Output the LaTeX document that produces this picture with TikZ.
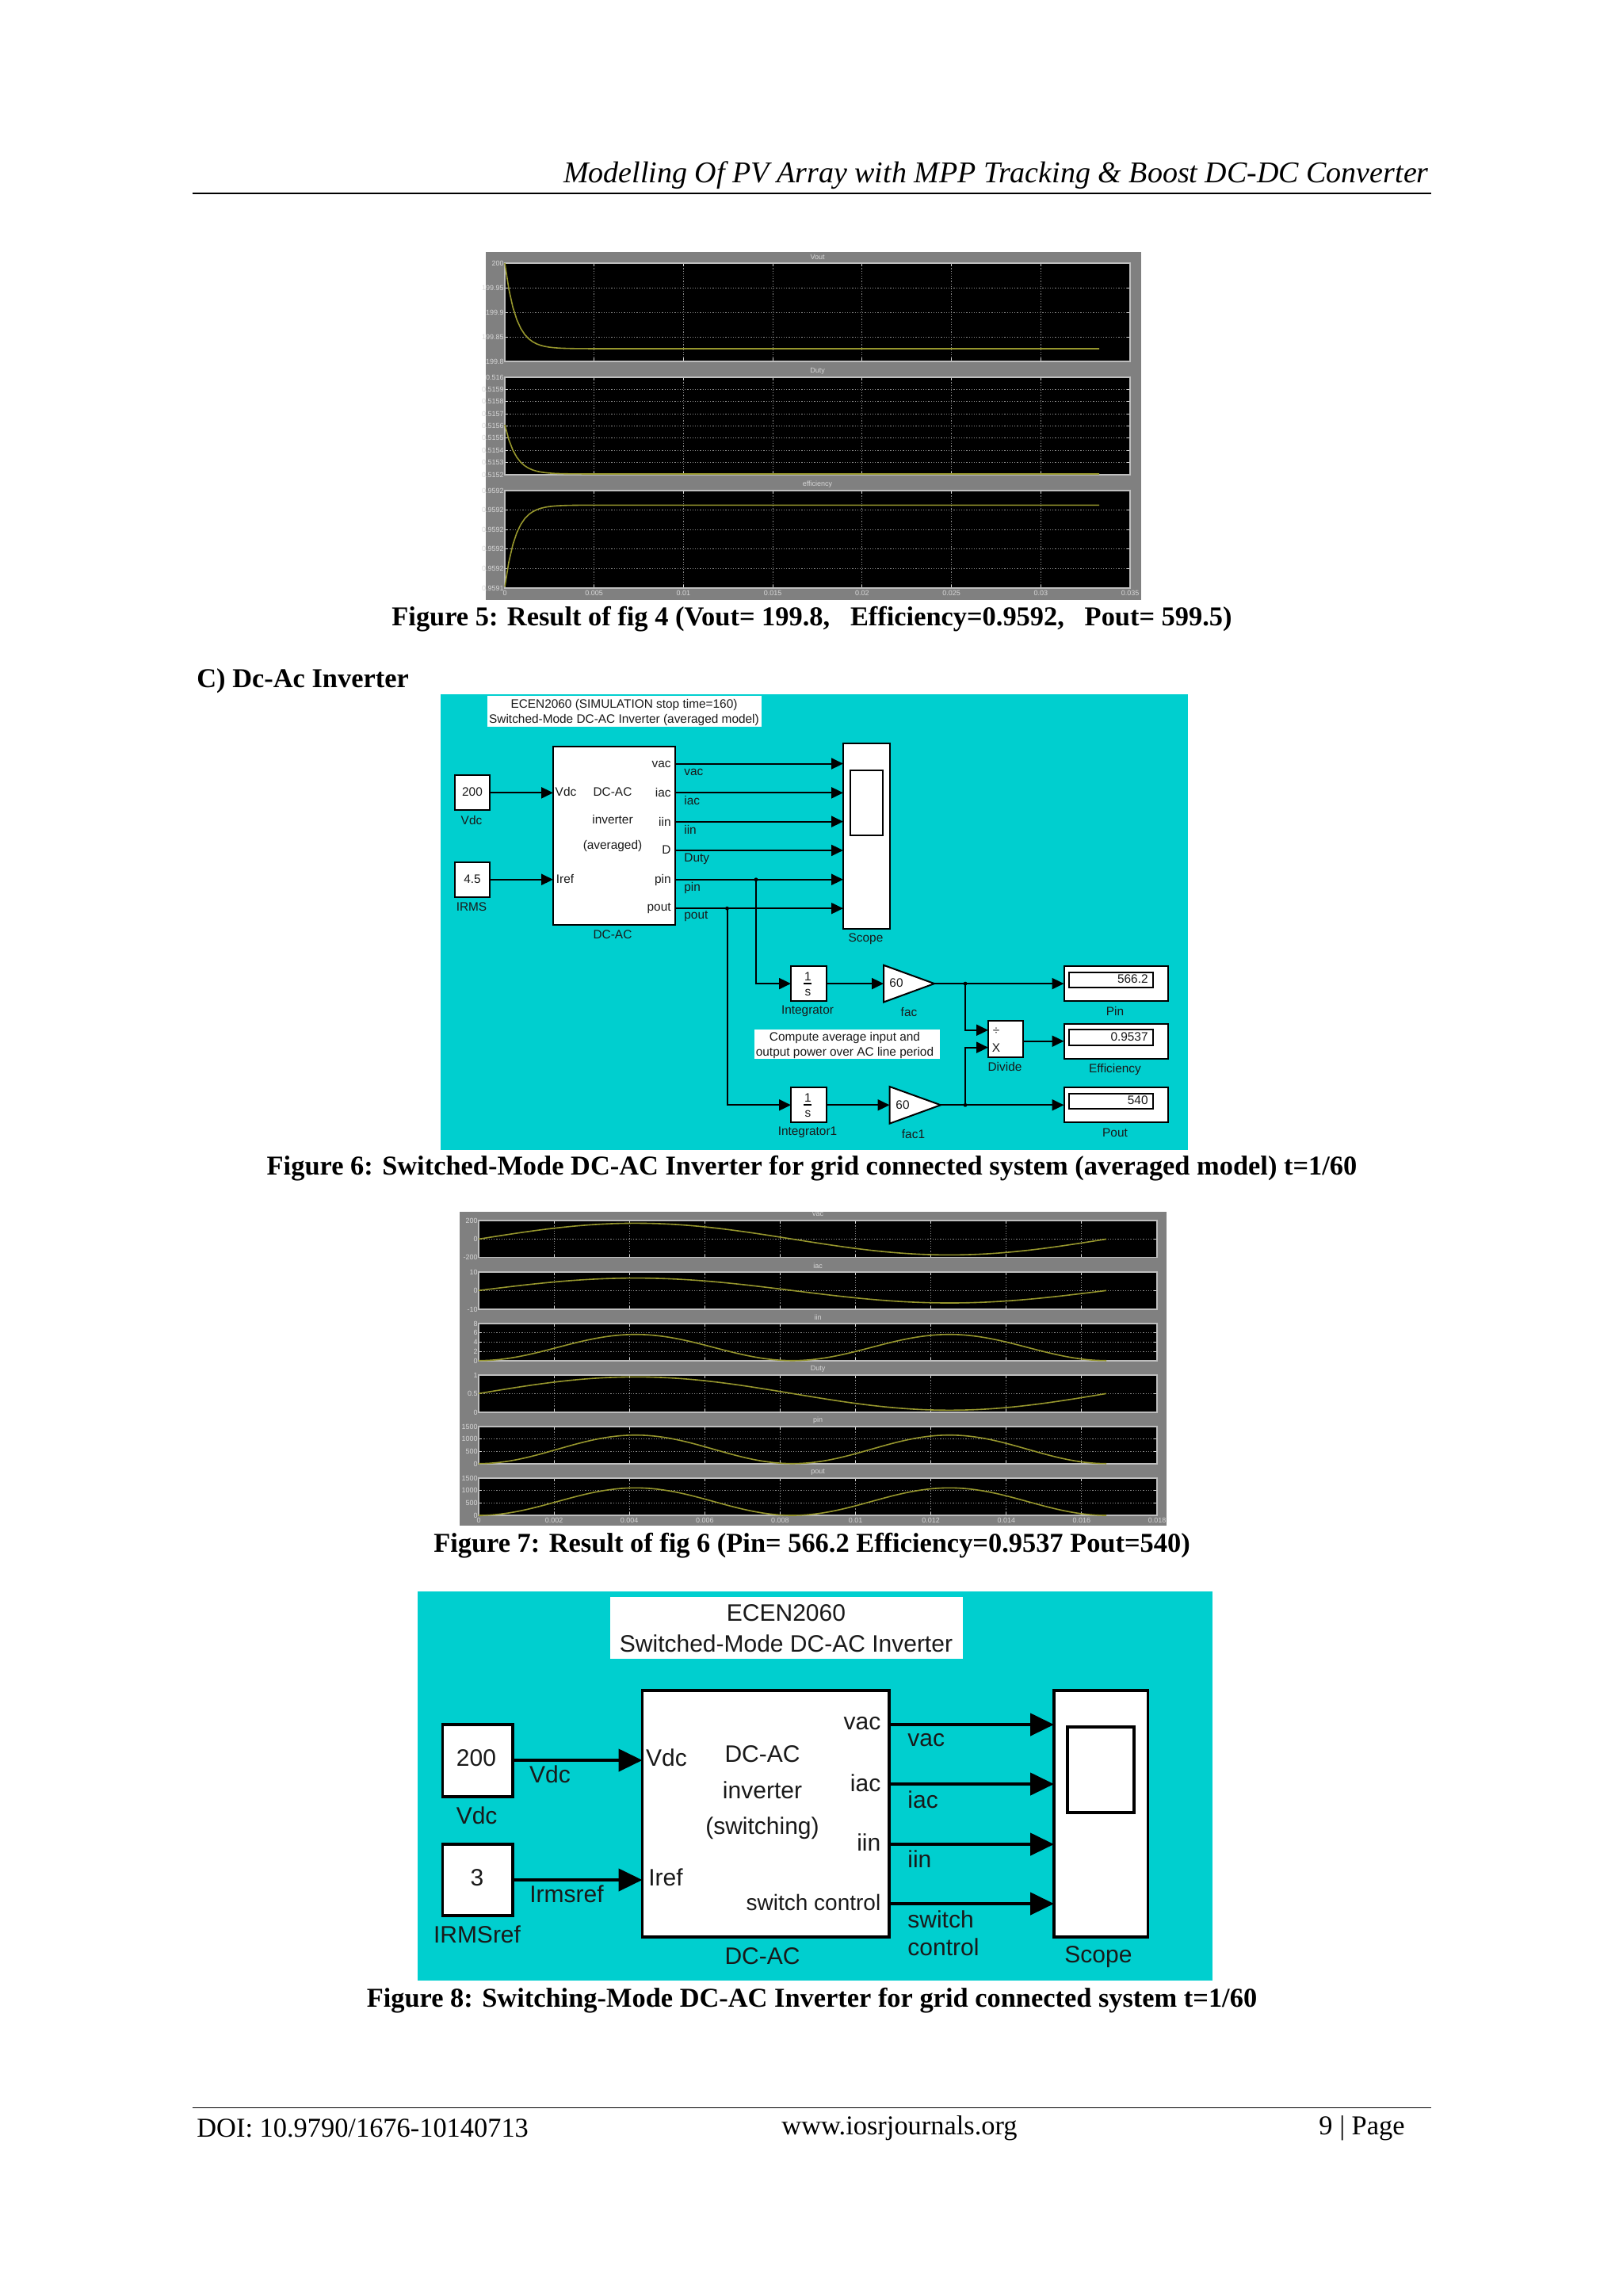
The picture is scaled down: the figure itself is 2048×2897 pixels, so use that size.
\documentclass[tikz,border=0pt]{standalone}
\usepackage{fontspec}
\usetikzlibrary{arrows.meta,calc}
\setmainfont{Liberation Serif}
\newfontfamily\smf{Liberation Sans}
\definecolor{simbg}{RGB}{0,207,207}
\definecolor{scgray}{RGB}{128,128,128}
\definecolor{sccurve}{RGB}{150,150,45}
\definecolor{scgrid}{RGB}{140,140,140}
\definecolor{scframe}{RGB}{190,190,190}
\definecolor{sctext}{RGB}{215,215,215}
\definecolor{ink}{RGB}{25,25,25}
\tikzset{
 capt/.style={font=\bfseries\fontsize{17.2}{20}\selectfont,inner sep=0pt,text=black},
 body/.style={font=\fontsize{17.2}{20}\selectfont,inner sep=0pt,text=black},
 slab/.style={font=\smf\fontsize{7.7}{9}\selectfont,inner sep=0pt,text=ink,yshift=-0.5pt},
 blab/.style={font=\smf\fontsize{15}{18}\selectfont,inner sep=0pt,text=ink},
 blk/.style={draw=black,fill=white,line width=1pt,inner sep=0pt,outer sep=0pt},
 bigblk/.style={draw=black,fill=white,line width=1.7pt,inner sep=0pt,outer sep=0pt},
 wire/.style={draw=black,line width=1pt},
 arr/.style={draw=black,line width=1pt,-{Triangle[length=7.5pt,width=7pt]}},
 bigarr/.style={draw=black,line width=2.2pt,-{Triangle[length=15pt,width=14pt]}},
 tick/.style={font=\smf\fontsize{4.5}{5}\selectfont,inner sep=0pt,text=sctext},
 curve/.style={draw=sccurve,line width=.8pt},
}
% [style]{name}{x0}{y0}{x1}{y1}
\newcommand{\pbox}[6][blk]{\node[#1,minimum width={(#5-#3)*0.5pt},minimum height={(#6-#4)*0.5pt}] (#2) at ({(#3+#5)/2},{(#4+#6)/2}) {};}
\newcommand{\lab}[5][slab]{\node[#1] (#2) at (#3,#4) {#5};}
% {name}{x0}{y0}{x1}{y1}{nv}{nh}{title}{ylabels}
\newcommand{\scpanel}[9]{%
 \fill[black] (#2,#3) rectangle (#4,#5);
 \foreach \i in {1,...,\numexpr#6-1\relax}{
  \draw[scgrid,line width=.5pt,dash pattern=on .6pt off 1pt] ({#2+(#4-#2)*\i/#6},#3) -- ({#2+(#4-#2)*\i/#6},#5);
  \draw[sctext,line width=.5pt] ({#2+(#4-#2)*\i/#6},#3) -- ++(0,4);
  \draw[sctext,line width=.5pt] ({#2+(#4-#2)*\i/#6},#5) -- ++(0,-4);
 }
 \foreach \i in {1,...,\numexpr#7-1\relax}{
  \draw[scgrid,line width=.5pt,dash pattern=on .6pt off 1pt] (#2,{#3+(#5-#3)*\i/#7}) -- (#4,{#3+(#5-#3)*\i/#7});
  \draw[sctext,line width=.5pt] (#2,{#3+(#5-#3)*\i/#7}) -- ++(4,0);
  \draw[sctext,line width=.5pt] (#4,{#3+(#5-#3)*\i/#7}) -- ++(-4,0);
 }
 \draw[scframe,line width=.7pt] (#2,#3) rectangle (#4,#5);
 \node[tick] (#1title) at ({(#2+#4)/2},{#3-8}) {#8};
 \foreach \t [count=\c from 0] in {#9}{
  \node[tick,anchor=east] (#1y\c) at ({#2-1},{#3+(#5-#3)*\c/#7}) {\t};
 }
}
\begin{document}
\begin{tikzpicture}[x=0.5pt,y=-0.5pt]
\useasboundingbox (0,0) rectangle (2048,2897);
\fill[white] (0,0) rectangle (2048,2897);

% header and footer
\node[font=\itshape\fontsize{19}{23}\selectfont,inner sep=0pt,anchor=east] (head) at (1803,221) {Modelling Of PV Array with MPP Tracking \& Boost DC-DC Converter};
\draw[black,line width=.8pt] (242.5,244) -- (1806,244);
\draw[black,line width=.8pt] (242.5,2659.5) -- (1806,2659.5);
\node[body,anchor=west] (doi) at (248,2685) {DOI: 10.9790/1676-10140713};
\node[body] (web) at (1135,2685) {www.iosrjournals.org};
\node[body,anchor=east] (pg) at (1773,2685) {9 | Page};

% ---------- Figure 5 ----------
\fill[scgray] (613,318) rectangle (1440,757);
\scpanel{a}{637}{332}{1426}{456}{7}{4}{Vout}{200,199.95,199.9,199.85,199.8}
\scpanel{b}{637}{476}{1426}{599}{7}{8}{Duty}{0.516,0.5159,0.5158,0.5157,0.5156,0.5155,0.5154,0.5153,0.5152}
\scpanel{c}{637}{619}{1426}{742}{7}{5}{efficiency}{0.9592,0.9592,0.9592,0.9592,0.9592,0.9591}
\foreach \t [count=\c from 0] in {0,0.005,0.01,0.015,0.02,0.025,0.03,0.035}{
 \node[tick] (cx\c) at ({637+789*\c/7},748) {\t};
}
\draw[curve] plot[domain=637:1387,samples=150] (\x,{440-108*exp(-(\x-637)/14)});
\draw[curve] plot[domain=637:1387,samples=150] (\x,{598-62*exp(-(\x-637)/14)});
\draw[curve] plot[domain=637:1387,samples=150] (\x,{637.3+103*exp(-(\x-637)/14)});
\node[capt] (cap5) at (1024.5,781) {Figure 5: Result of fig 4 (Vout= 199.8,\ \ \ Efficiency=0.9592,\ \ \ Pout= 599.5)};
\node[capt,anchor=west] (secC) at (248,859.5) {C) Dc-Ac Inverter};

% ---------- Figure 6 ----------
\begin{scope}[y={(0,-0.4974pt)},yshift=-2.26pt]
\fill[simbg] (556,876) rectangle (1499,1454);
\fill[white] (615,878.5) rectangle (961,917);
\lab{t6a}{787.5}{888.5}{ECEN2060 (SIMULATION stop time=160)}
\lab{t6b}{787.5}{907.5}{Switched-Mode DC-AC Inverter (averaged model)}
\pbox{vdcA}{574}{979}{617.5}{1023}
\pbox{irms}{574}{1089}{617.5}{1133}
\pbox{dcacA}{698}{943}{852}{1168}
\pbox{scopeA}{1064}{939}{1122.5}{1173}
\pbox{screenA}{1072.5}{973}{1114}{1055}
\lab{v200}{596}{999}{200}
\lab{vname}{595}{1035}{Vdc}
\lab{v45}{596}{1109.5}{4.5}
\lab{iname}{595}{1145}{IRMS}
\lab{pvdc}{714}{999}{Vdc}
\lab{piref}{713}{1109.5}{Iref}
\lab{d1}{773}{999}{DC-AC}
\lab{d2}{773}{1033.6}{inverter}
\lab{d3}{773}{1067.5}{(averaged)}
\lab[slab,anchor=east]{o1}{847}{963.5}{vac}
\lab[slab,anchor=east]{o2}{847}{1000}{iac}
\lab[slab,anchor=east]{o3}{847}{1036.7}{iin}
\lab[slab,anchor=east]{o4}{847}{1072.5}{D}
\lab[slab,anchor=east]{o5}{847}{1110.6}{pin}
\lab[slab,anchor=east]{o6}{847}{1147}{pout}
\lab[slab,anchor=west]{w1}{863}{974}{vac}
\lab[slab,anchor=west]{w2}{863}{1010}{iac}
\lab[slab,anchor=west]{w3}{863}{1047}{iin}
\lab[slab,anchor=west]{w4}{863}{1083.7}{Duty}
\lab[slab,anchor=west]{w5}{863}{1120.6}{pin}
\lab[slab,anchor=west]{w6}{863}{1157}{pout}
\lab{dcacAn}{773}{1180}{DC-AC}
\lab{scopeAn}{1092.5}{1185}{Scope}
\coordinate (A1) at (852,964);
\coordinate (A2) at (852,1001);
\coordinate (A3) at (852,1037.5);
\coordinate (A4) at (852,1074);
\coordinate (A5) at (852,1111);
\coordinate (A6) at (852,1147.6);
\foreach \n in {1,...,6}{\draw[arr] (A\n) -- (A\n -| scopeA.west);}
\draw[arr] (vdcA.east) -- (vdcA.east -| dcacA.west);
\draw[arr] (irms.east) -- (irms.east -| dcacA.west);
% lower chain
\pbox{integ}{998}{1221}{1042.5}{1265}
\pbox{integb}{998}{1375}{1042.5}{1419}
\coordinate (facI) at (1115,1243);
\coordinate (facO) at (1179,1243);
\coordinate (fbcI) at (1122.5,1397);
\coordinate (fbcO) at (1187,1397);
\draw[blk] (1115,1219.6) -- (1179,1243) -- (1115,1266.5) -- cycle;
\draw[blk] (1122.5,1373.6) -- (1187,1397) -- (1122.5,1420.5) -- cycle;
\pbox{pinD}{1342.5}{1221}{1474}{1265}
\pbox{effD}{1342.5}{1294}{1474}{1338}
\pbox{poutD}{1342.5}{1375}{1474}{1419}
\pbox{pinS}{1349}{1228.4}{1455}{1247.7}
\pbox{effS}{1349}{1301.6}{1455}{1321}
\pbox{poutS}{1349}{1382.4}{1455}{1401.7}
\pbox{divide}{1247}{1290}{1291}{1336}
\lab{s1a}{1019.4}{1233}{1}
\lab{s1b}{1019.4}{1253}{s}
\lab{s2a}{1019.4}{1386.7}{1}
\lab{s2b}{1019.4}{1407}{s}
\draw[black,line width=.8pt] (1014.4,1243) -- (1024.4,1243);
\draw[black,line width=.8pt] (1014.4,1397) -- (1024.4,1397);
\lab{intn}{1019}{1277}{Integrator}
\lab{intbn}{1019}{1431}{Integrator1}
\lab{fac60}{1131}{1241.5}{60}
\lab{fbc60}{1139}{1395.5}{60}
\lab{facn}{1147}{1278}{fac}
\lab{fbcn}{1152.5}{1432.5}{fac1}
\lab[slab,anchor=east]{val1}{1449}{1236}{566.2}
\lab[slab,anchor=east]{val2}{1449}{1309}{0.9537}
\lab[slab,anchor=east]{val3}{1449}{1390}{540}
\lab{pinn}{1407}{1277}{Pin}
\lab{effn}{1407}{1350.5}{Efficiency}
\lab{poutn}{1407}{1431}{Pout}
\lab{divn}{1268}{1347.4}{Divide}
\lab{divs}{1257}{1302}{÷}
\lab{divx}{1257}{1324}{X}
\fill[white] (952,1301.6) rectangle (1186,1338.5);
\lab{n1}{1066}{1311}{Compute average input and}
\lab{n2}{1066}{1330}{output power over AC line period}
\coordinate (jp) at (954,1111);
\coordinate (jq) at (917.5,1147.6);
\coordinate (jf) at (1218,1243);
\coordinate (jg) at (1218,1397);
\coordinate (dI1) at (1247,1302);
\coordinate (dI2) at (1247,1324);
\coordinate (dO) at (1291,1316);
\draw[arr] (jp) |- (integ.west);
\draw[arr] (jq) |- (integb.west);
\draw[arr] (integ.east) -- (facI);
\draw[arr] (integb.east) -- (fbcI);
\draw[arr] (facO) -- (pinD.west);
\draw[arr] (fbcO) -- (poutD.west);
\draw[arr] (jf) |- (dI1);
\draw[arr] (jg) |- (dI2);
\draw[arr] (dO) -- (dO -| effD.west);
\foreach \j in {jp,jq,jf,jg}{\fill[black] (\j) circle (1.2pt);}
\end{scope}
\node[capt] (cap6) at (1024.5,1474.5) {Figure 6: Switched-Mode DC-AC Inverter for grid connected system (averaged model) t=1/60};

% ---------- Figure 7 ----------
\fill[scgray] (580,1529) rectangle (1472,1925);
\scpanel{e}{604}{1540}{1460}{1586.7}{9}{2}{vac}{200,0,-200}
\scpanel{f}{604}{1605}{1460}{1652}{9}{2}{iac}{10,0,-10}
\scpanel{g}{604}{1670}{1460}{1717}{9}{4}{iin}{8,6,4,2,0}
\scpanel{h}{604}{1735}{1460}{1782}{9}{2}{Duty}{1,0.5,0}
\scpanel{k}{604}{1800}{1460}{1847}{9}{3}{pin}{1500,1000,500,0}
\scpanel{m}{604}{1865}{1460}{1912}{9}{3}{pout}{1500,1000,500,0}
\foreach \t [count=\c from 0] in {0,0.002,0.004,0.006,0.008,0.01,0.012,0.014,0.016,0.018}{
 \node[tick] (mx\c) at ({604+856*\c/9},1918) {\t};
}
\draw[curve] plot[domain=604:1396,samples=120] (\x,{1563.4-20*sin((\x-604)/792*360)});
\draw[curve] plot[domain=604:1396,samples=120] (\x,{1628.3-15.7*sin((\x-604)/792*360)});
\draw[curve] plot[domain=604:1396,samples=120] (\x,{1716.7-33*sin((\x-604)/792*360)*sin((\x-604)/792*360)});
\draw[curve] plot[domain=604:1396,samples=120] (\x,{1758.3-21*sin((\x-604)/792*360)});
\draw[curve] plot[domain=604:1396,samples=120] (\x,{1846.7-36*sin((\x-604)/792*360)*sin((\x-604)/792*360)});
\draw[curve] plot[domain=604:1396,samples=120] (\x,{1912-34.7*sin((\x-604)/792*360)*sin((\x-604)/792*360)});
\node[capt] (cap7) at (1024.5,1950) {Figure 7: Result of fig 6 (Pin= 566.2 Efficiency=0.9537 Pout=540)};

% ---------- Figure 8 ----------
\fill[simbg] (527,2008) rectangle (1530,2499);
\fill[white] (770,2015) rectangle (1215,2093);
\lab[blab]{t8a}{992}{2035}{ECEN2060}
\lab[blab]{t8b}{992}{2074}{Switched-Mode DC-AC Inverter}
\pbox[bigblk]{vdcB}{558.5}{2176}{647}{2267}
\pbox[bigblk]{irmsB}{558.5}{2327}{647}{2417}
\pbox[bigblk]{dcacB}{810.5}{2133}{1122}{2444}
\pbox[bigblk]{scopeB}{1330}{2133}{1448.6}{2444}
\pbox[bigblk]{screenB}{1347}{2179}{1431}{2287}
\lab[blab]{b200}{601}{2218}{200}
\lab[blab]{b3}{602}{2369}{3}
\lab[blab]{bvn}{601.6}{2291}{Vdc}
\lab[blab]{bin}{602}{2441}{IRMSref}
\lab[blab]{bw1}{694}{2239}{Vdc}
\lab[blab]{bw2}{715}{2390}{Irmsref}
\lab[blab]{bp1}{841}{2218}{Vdc}
\lab[blab]{bp2}{840}{2369}{Iref}
\lab[blab]{bd1}{962}{2213}{DC-AC}
\lab[blab]{bd2}{962}{2259}{inverter}
\lab[blab]{bd3}{962}{2307}{(switching)}
\lab[blab,anchor=east]{bo1}{1111.7}{2175}{vac}
\lab[blab,anchor=east]{bo2}{1111.7}{2250}{iac}
\lab[blab,anchor=east]{bo3}{1111.7}{2325}{iin}
\lab[blab,anchor=east,font=\smf\fontsize{14}{17}\selectfont]{bo4}{1111.7}{2400}{switch control}
\lab[blab,anchor=west]{bl1}{1145}{2196}{vac}
\lab[blab,anchor=west]{bl2}{1145}{2271}{iac}
\lab[blab,anchor=west]{bl3}{1145}{2346}{iin}
\lab[blab,anchor=west]{bl4}{1145}{2422}{switch}
\lab[blab,anchor=west]{bl5}{1145}{2457}{control}
\lab[blab]{bdn}{962}{2468}{DC-AC}
\lab[blab]{bsn}{1386}{2469}{Scope}
\coordinate (B1) at (1122,2176);
\coordinate (B2) at (1122,2251);
\coordinate (B3) at (1122,2327);
\coordinate (B4) at (1122,2402);
\foreach \n in {1,...,4}{\draw[bigarr] (B\n) -- (B\n -| scopeB.west);}
\coordinate (Bv) at (647,2221);
\coordinate (Bi) at (647,2372);
\draw[bigarr] (Bv) -- (Bv -| dcacB.west);
\draw[bigarr] (Bi) -- (Bi -| dcacB.west);
\node[capt] (cap8) at (1024.5,2524) {Figure 8: Switching-Mode DC-AC Inverter for grid connected system t=1/60};
\end{tikzpicture}
\end{document}
